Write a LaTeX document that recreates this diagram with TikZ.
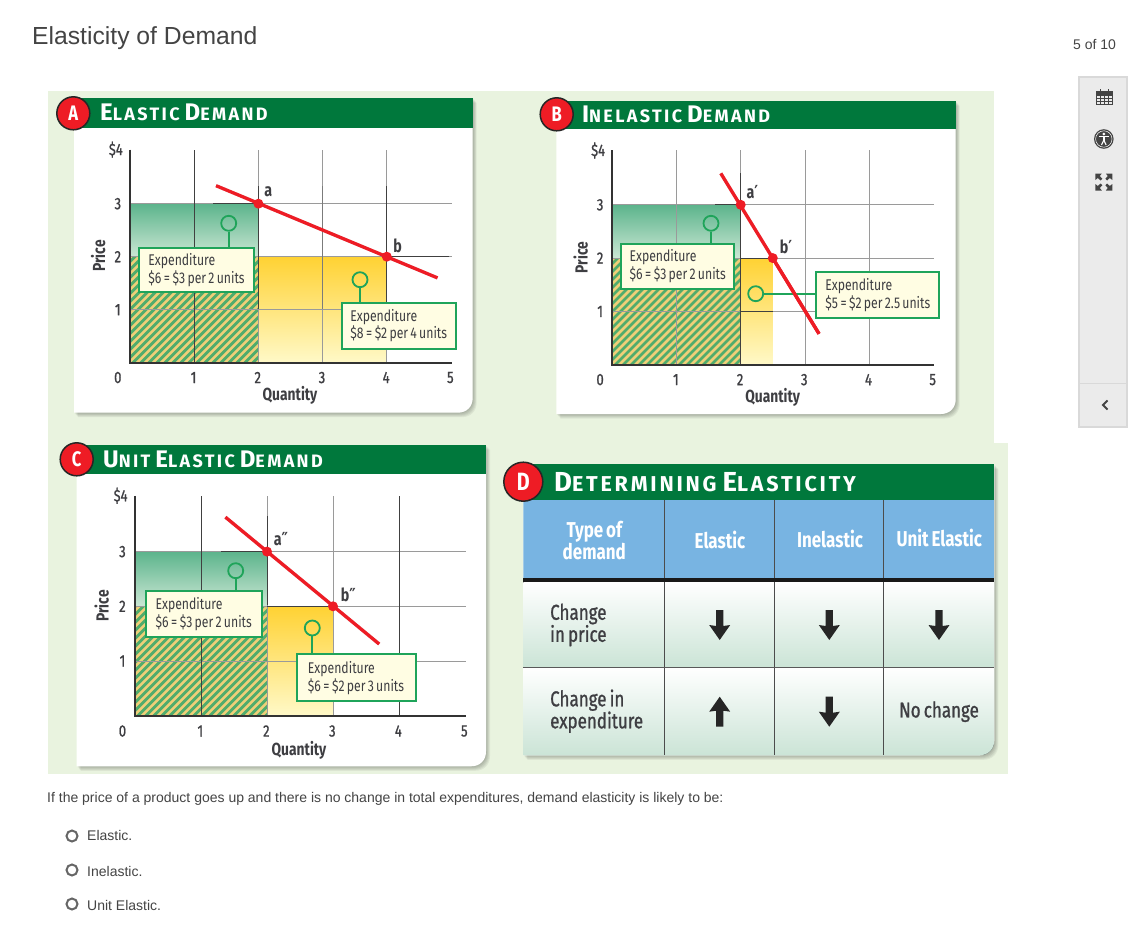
\documentclass[tikz,border=0pt]{standalone}
\usepackage{fontspec}
\setmainfont{Liberation Sans}
\newfontfamily\cond[FakeStretch=0.79,WordSpace=0.7]{Fira Sans}
\newfontfamily\condm[FakeStretch=0.79,FakeBold=1,WordSpace=0.7]{Fira Sans}
\newfontfamily\ttlf[LetterSpace=13]{Fira Sans}
\newfontfamily\primef[FakeStretch=0.8]{DejaVu Sans}
\definecolor{pagebg}{HTML}{E9F3DF}
\definecolor{hdrgreen}{HTML}{00783C}
\definecolor{boxgreen}{HTML}{1FA45A}
\definecolor{boxfill}{HTML}{FFFDE3}
\definecolor{dred}{HTML}{EE1C25}
\definecolor{txt}{HTML}{3E3E42}
\definecolor{gridg}{HTML}{9A9A9A}
\definecolor{hatchg}{HTML}{50AC6C}
\definecolor{hatchy}{HTML}{EFCF78}
\definecolor{greentop}{HTML}{5CB48C}
\definecolor{greenbot}{HTML}{CBE7D4}
\definecolor{yeltop}{HTML}{FFD233}
\definecolor{yelbot}{HTML}{FFF9C8}
\definecolor{tblue}{HTML}{78B4E2}
\definecolor{trow}{HTML}{CBE4D6}
\definecolor{uitxt}{HTML}{444444}
\definecolor{sidebg}{HTML}{EBEBEB}
\definecolor{sidebd}{HTML}{D9D9D9}
\tikzset{
  exptext/.style={font=\cond\fontsize{15.5}{17.7}\selectfont,text=txt,align=left},
  expbox/.style={exptext,draw=boxgreen,line width=2pt,fill=boxfill,inner sep=0pt,anchor=center},
  calloutc/.style={circle,draw=boxgreen,line width=1.8pt,minimum size=15pt,inner sep=0pt},
  calloutl/.style={draw=boxgreen,line width=1.8pt},
  ticklab/.style={font=\condm\fontsize{16.5}{16.5}\selectfont,text=txt,inner sep=0pt},
  axlab/.style={font=\cond\bfseries\fontsize{17.5}{17.5}\selectfont,text=txt,inner sep=0pt},
  ptlab/.style={font=\cond\bfseries\fontsize{18}{18}\selectfont,text=txt,inner sep=0pt},
  ptdot/.style={circle,fill=dred,minimum size=10pt,inner sep=0pt},
  gridl/.style={draw=gridg,line width=.8pt},
  darkl/.style={draw=black!75,line width=1pt},
  demand/.style={draw=dred,line width=3.3pt},
  demandsh/.style={draw=black,opacity=.13,line width=3.3pt},
  badge/.style={circle,draw=black!85,line width=1.5pt,fill=dred,text=white,inner sep=0pt,font=\cond\bfseries\fontsize{21}{21}\selectfont},
  ttl/.style={font=\ttlf\bfseries,text=white,inner sep=0pt,anchor=base west},
  thead/.style={font=\cond\bfseries\fontsize{21.5}{22}\selectfont,text=white,align=center,inner sep=0pt},
  tcell/.style={font=\condm\fontsize{21.5}{22}\selectfont,text=txt,align=left,inner sep=0pt},
  uitext/.style={font=\fontsize{14}{14}\selectfont,text=uitxt,inner sep=0pt,anchor=base west},
  radiob/.style={circle,draw=black!60,line width=2pt,minimum size=11pt,inner sep=0pt},
}
% small-caps helpers
\newcommand{\capsA}[1]{{\fontsize{24}{24}\selectfont #1}}
\newcommand{\capsB}[1]{{\fontsize{18}{18}\selectfont #1}}
\newcommand{\capsC}[1]{{\fontsize{27.5}{27.5}\selectfont #1}}
\newcommand{\capsD}[1]{{\fontsize{21.5}{21.5}\selectfont #1}}
\newcommand{\pr}{{\primef\fontsize{18}{18}\selectfont ′}}
\newcommand{\prr}{{\primef\fontsize{18}{18}\selectfont ″}}
% card: x1 y1 x2 y2
\newcommand{\cardpath}[4]{(#1,#2) -- (#3,#2) -- (#3,#4-15) .. controls (#3,#4-6) and (#3-6,#4) .. (#3-15,#4) -- (#1,#4) -- cycle}
\newcommand{\cardbase}[4]{%
  \foreach \o in {1,2,3,4,5}{\fill[black,opacity=.055,shift={(\o*.8,\o*.9)}] \cardpath{#1}{#2}{#3}{#4};}
  \fill[white] \cardpath{#1}{#2}{#3}{#4};}
% chart: prefix ox oy ux uy yellow-right extra
\newcommand{\chartpanel}[7]{%
  \begin{scope}[shift={(#2,#3)},x=#4pt,y=#5pt]
    \fill[top color=greentop,bottom color=greenbot] (0,2) rectangle (2,3);
    \fill[top color=yeltop,bottom color=yelbot] (2,0) rectangle (#6,2);
    \begin{scope}
      \clip (0,0) rectangle (2,2);
      \fill[hatchy] (0,0) rectangle (2,2);
      \foreach \s in {-130,-122,...,140}{\draw[hatchg,line width=2.8pt] (\s pt,-5pt) -- ++(125pt,125pt);}
    \end{scope}
    \foreach \g in {1,2,3,4}{\draw[gridl] (\g,0) -- (\g,4.02);}
    \foreach \g in {1,2,3}{\draw[gridl] (0,\g) -- (5.01,\g);}
    #7
    \draw[black!80,line width=1.8pt] (0,4.02) -- (0,0) -- (5.01,0);
    \node[ticklab] (#1x0) at (-.19,-.28) {0};
    \foreach \g in {1,2,3,4,5}{\node[ticklab] (#1x\g) at (\g-.01,-.28) {\g};}
    \foreach \g in {1,2,3}{\node[ticklab] (#1y\g) at (-.19,\g) {\g};}
    \node[ticklab,anchor=east] (#1y4) at (-.11,4.02) {\$4};
  \end{scope}}
\newcommand{\blockdown}[2]{\fill[black!85] (#1-3.6,#2) -- (#1+3.6,#2) -- (#1+3.6,#2+16) -- (#1+10.5,#2+15) -- (#1,#2+30) -- (#1-10.5,#2+15) -- (#1-3.6,#2+16) -- cycle;}
\newcommand{\blockup}[2]{\fill[black!85] (#1-3.6,#2+30) -- (#1+3.6,#2+30) -- (#1+3.6,#2+14) -- (#1+10.5,#2+15) -- (#1,#2) -- (#1-10.5,#2+15) -- (#1-3.6,#2+14) -- cycle;}
\begin{document}
\begin{tikzpicture}[x=1pt,y=-1pt]
\useasboundingbox (0,0) rectangle (1148,934);
\fill[white] (0,0) rectangle (1148,934);
% pale backgrounds
\fill[pagebg] (48,91) rectangle (994,443);
\fill[pagebg] (48,430) rectangle (512,443);
\fill[pagebg] (48,443) rectangle (1008,774);

% ---------- page text
\node[uitext,font=\fontsize{24.7}{25}\selectfont] (pgtitle) at (32,45) {Elasticity of Demand};
\node[uitext] (pgcount) at (1073,50) {5 of 10};
\node[uitext] (qtext) at (47,802) {If the price of a product goes up and there is no change in total expenditures, demand elasticity is likely to be:};
\node[radiob] (r1) at (72,836) {};
\node[radiob] (r2) at (72,870) {};
\node[radiob] (r3) at (72,904) {};
\node[uitext] (o1) at (87,840) {Elastic.};
\node[uitext] (o2) at (87,876) {Inelastic.};
\node[uitext] (o3) at (87,910) {Unit Elastic.};

% ---------- sidebar
\draw[fill=sidebg,draw=sidebd,line width=2pt] (1079,77) rectangle (1127,427);
\draw[sidebd,line width=1pt] (1080,383) -- (1126,383);
\draw[uitxt,line width=.9pt] (1096.5,91.5) rectangle (1112,104.5);
\fill[uitxt] (1096.5,91) rectangle (1112,95.5);
\foreach \q in {1100,1108.5}{\fill[uitxt] (\q-.5,89) rectangle (\q+.5,91);}
\foreach \q in {1100.4,1104.2,1108}{\draw[uitxt,line width=.6pt] (\q,95.5) -- (\q,104.5);}
\foreach \q in {98.5,101.5}{\draw[uitxt,line width=.6pt] (1096.5,\q) -- (1112,\q);}
\fill[uitxt] (1103.8,139) circle (9.8);
\draw[white,line width=.5pt] (1103.8,139) circle (8.2);
\fill[white] (1103.8,134) circle (1.5);
\draw[white,line width=1.2pt] (1098.8,136.5) -- (1108.8,136.5);
\draw[white,line width=1.6pt] (1103.8,136) -- (1103.8,140.5);
\draw[white,line width=1.1pt] (1101.5,145) -- (1103.8,140) -- (1106.1,145);
\foreach \sx/\sy in {-1/-1,1/-1,-1/1,1/1}{
  \fill[uitxt] (1103.8+\sx*8.5,182+\sy*8.5) -- (1103.8+\sx*2,182+\sy*8.5) -- (1103.8+\sx*4,182+\sy*6) -- (1103.8+\sx*1.5,182+\sy*3.2) -- (1103.8+\sx*3.2,182+\sy*1.5) -- (1103.8+\sx*6,182+\sy*4) -- (1103.8+\sx*8.5,182+\sy*2) -- cycle;}
\draw[uitxt,line width=2pt] (1107.5,400.5) -- (1103,405) -- (1107.5,409.5);

% ---------- Panel A
\cardbase{74}{98}{472.7}{412.7}
\chartpanel{A}{130}{362.7}{64.2}{53}{4}{
  \draw[darkl] (1,0) -- (1,4.02);
  \draw[darkl] (2,1.02) -- (2,3.33);
  \draw[gridg!80!black,line width=1.1pt] (3,1.02) -- (3,3.33);
  \draw[darkl] (4,1.02) -- (4,3.33);
  \draw[darkl] (1.3,3) -- (2,3);
  \draw[darkl] (4,2) -- (4.97,2);
  \coordinate (As) at (1.34,3.34); \coordinate (Ae) at (4.79,1.6);
  \draw[demandsh,shift={(1pt,-3pt)}] (As) -- (Ae);
  \draw[demand] (As) -- (Ae);
  \node[ptdot] (Aa) at (2,3) {};
  \node[ptdot] (Ab) at (4,2) {};
}
\fill[hdrgreen] (74,98.3) rectangle (472.7,127.7);
\node[badge,minimum size=33pt] (bA) at (73.3,113.3) {A};
\node[ttl] (tA) at (100,120.8) {\capsA{E}\capsB{LASTIC}\hspace{5pt}\capsA{D}\capsB{EMAND}};
\node[ptlab] (lAa) at (268.3,191.7) {a};
\node[ptlab] (lAb) at (397.7,245.7) {b};
\node[axlab] (qA) at (290,395.7) {Quantity};
\node[axlab,rotate=90] (pA) at (98.3,256) {Price};
\node[calloutc] (cA1) at (228.7,223.3) {};
\node[expbox,minimum width=115pt,minimum height=44.6pt] (eA1) at (196.5,270) {Expenditure\\\$6\,=\,\$3 per 2 units};
\draw[calloutl] (cA1.south) -- (cA1.south |- eA1.north);
\node[calloutc] (cA2) at (360,279.7) {};
\node[expbox,minimum width=114pt,minimum height=46pt] (eA2) at (398.7,325.7) {Expenditure\\\$8\,=\,\$2 per 4 units};
\draw[calloutl] (cA2.south) -- (cA2.south |- eA2.north);

% ---------- Panel B
\cardbase{556.3}{101}{955.7}{414}
\chartpanel{B}{612.3}{364.7}{64.2}{53.3}{2.5}{
  \draw[darkl] (2,0) -- (2,3.6);
  \draw[darkl] (1.6,3) -- (2,3);
  \draw[darkl] (2,2) -- (2.5,2);
  \draw[darkl] (2,1) -- (2.5,1);
  \coordinate (Bs) at (1.69,3.59); \coordinate (Be) at (3.22,.58);
  \draw[demandsh,shift={(1pt,-3pt)}] (Bs) -- (Be);
  \draw[demand] (Bs) -- (Be);
  \node[ptdot] (Ba) at (2,3) {};
  \node[ptdot] (Bb) at (2.5,2) {};
}
\fill[hdrgreen] (556.3,101) rectangle (955.7,129.3);
\node[badge,minimum size=33pt] (bB) at (556.7,114.3) {B};
\node[ttl] (tB) at (582,122) {\capsA{I}\capsB{NELASTIC}\hspace{5pt}\capsA{D}\capsB{EMAND}};
\node[ptlab] (lBa) at (752.3,191.7) {a\pr};
\node[ptlab] (lBb) at (786,246.7) {b\pr};
\node[axlab] (qB) at (772.7,397) {Quantity};
\node[axlab,rotate=90] (pB) at (580.7,257.7) {Price};
\node[calloutc] (cB1) at (711,223.3) {};
\node[expbox,minimum width=113pt,minimum height=45pt] (eB1) at (677.7,266.3) {Expenditure\\\$6\,=\,\$3 per 2 units};
\draw[calloutl] (cB1.south) -- (cB1.south |- eB1.north);
\node[calloutc] (cB2) at (755.7,293.7) {};
\node[expbox,minimum width=123pt,minimum height=46pt] (eB2) at (877.8,294.8) {Expenditure\\\$5\,=\,\$2 per 2.5 units};
\draw[calloutl] (cB2.east) -- (cB2.east -| eB2.west);
\draw[demand] (Bb) -- (Be);

% ---------- Panel C
\cardbase{76.7}{445}{486}{766.3}
\chartpanel{C}{135}{715.7}{66}{54.7}{3}{
  \draw[darkl] (1,0) -- (1,4.02);
  \draw[darkl] (2,2.02) -- (2,3.65);
  \draw[darkl] (4,0) -- (4,4.02);
  \draw[darkl] (1.3,3) -- (2,3);
  \draw[darkl] (2,2) -- (3,2);
  \coordinate (Cs) at (1.37,3.63); \coordinate (Ce) at (3.7,1.31);
  \draw[demandsh,shift={(1pt,-3pt)}] (Cs) -- (Ce);
  \draw[demand] (Cs) -- (Ce);
  \node[ptdot] (Ca) at (2,3) {};
  \node[ptdot] (Cb) at (3,2) {};
}
\fill[hdrgreen] (76.7,445) rectangle (486,474.3);
\node[badge,minimum size=33pt] (bC) at (76.7,459.3) {C};
\node[ttl] (tC) at (103,467) {\capsA{U}\capsB{NIT}\hspace{5pt}\capsA{E}\capsB{LASTIC}\hspace{5pt}\capsA{D}\capsB{EMAND}};
\node[ptlab] (lCa) at (281,539) {a\prr};
\node[ptlab] (lCb) at (348.3,595) {b\prr};
\node[axlab] (qC) at (299,750) {Quantity};
\node[axlab,rotate=90] (pC) at (101.7,606) {Price};
\node[calloutc] (cC1) at (235.7,570.7) {};
\node[expbox,minimum width=116pt,minimum height=46pt] (eC1) at (203.7,614.3) {Expenditure\\\$6\,=\,\$3 per 2 units};
\draw[calloutl] (cC1.south) -- (cC1.south |- eC1.north);
\node[calloutc] (cC2) at (312.3,628) {};
\node[expbox,minimum width=119pt,minimum height=47pt] (eC2) at (356,677.8) {Expenditure\\\$6\,=\,\$2 per 3 units};
\draw[calloutl] (cC2.south) -- (cC2.south |- eC2.north);

% ---------- Panel D
\cardbase{523.3}{464.3}{994.3}{755.3}
\begin{scope}
  \clip \cardpath{523.3}{464.3}{994.3}{755.3};
  \fill[tblue] (523.3,500) rectangle (994.3,578.3);
  \fill[top color=white,bottom color=trow] (523.3,582) rectangle (994.3,667.7);
  \fill[top color=white,bottom color=trow] (523.3,667.7) rectangle (994.3,755.3);
\end{scope}
\fill[hdrgreen] (523.3,464.3) rectangle (994.3,500);
\foreach \v in {664.3,774.7,883.7}{\draw[black!70,line width=1pt] (\v,500) -- (\v,755.3);}
\fill[black!90] (523.3,578.3) rectangle (994.3,582);
\draw[black!65,line width=1pt] (523.3,667.7) -- (994.3,667.7);
\node[badge,minimum size=39pt,font=\cond\bfseries\fontsize{25}{25}\selectfont] (bD) at (523.3,481.7) {D};
\node[ttl] (tD) at (554,491.8) {\capsC{D}\capsD{ETERMINING}\hspace{6pt}\capsC{E}\capsD{LASTICITY}};
\node[thead] (h0) at (594.3,540.5) {Type of\\demand};
\node[thead] (h1) at (720,540) {Elastic};
\node[thead] (h2) at (830,539) {Inelastic};
\node[thead] (h3) at (939.3,538) {Unit Elastic};
\node[tcell,anchor=west] (r1c) at (550,625) {Change\\in price};
\node[tcell,anchor=west] (r2c) at (550,711.2) {Change in\\expenditure};
\node[tcell] (nc) at (939,711.7) {No change};
\blockdown{719.7}{610}
\blockdown{829.3}{610}
\blockdown{939}{610}
\blockup{719.7}{696.7}
\blockdown{829.3}{696.7}
\end{tikzpicture}
\end{document}
